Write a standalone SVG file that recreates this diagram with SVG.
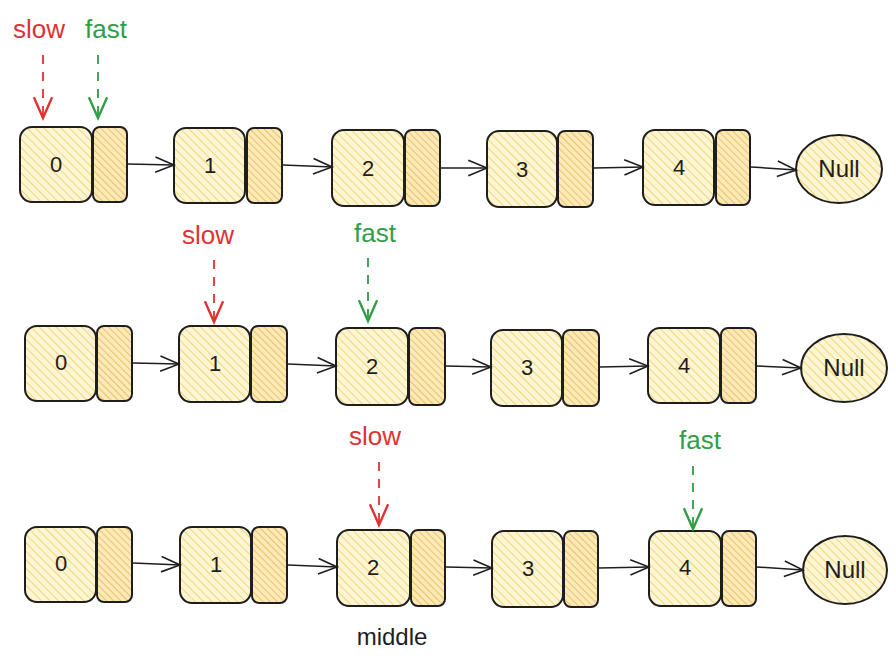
<svg xmlns="http://www.w3.org/2000/svg" width="896" height="664" viewBox="0 0 896 664">
<defs>
<pattern id="h1" patternUnits="userSpaceOnUse" width="6" height="6" patternTransform="rotate(-45)">
<rect width="6" height="6" fill="#fdf5d3"/>
<line x1="0" y1="0" x2="0" y2="6" stroke="#f2d77a" stroke-width="2"/>
</pattern>
<pattern id="h2" patternUnits="userSpaceOnUse" width="5" height="5" patternTransform="rotate(-45)">
<rect width="5" height="5" fill="#fbe9b8"/>
<line x1="0" y1="0" x2="0" y2="5" stroke="#eec268" stroke-width="2"/>
</pattern>
<marker id="ah" viewBox="0 0 20 20" refX="18" refY="10" markerWidth="22" markerHeight="22" markerUnits="userSpaceOnUse" orient="auto">
<path d="M1,3 L18,10 L1,17" fill="none" stroke="#1e1e1e" stroke-width="1.5"/>
</marker>
<marker id="ar" viewBox="0 0 20 20" refX="18" refY="10" markerWidth="26" markerHeight="26" markerUnits="userSpaceOnUse" orient="auto">
<path d="M2,3 L18,10 L2,17" fill="none" stroke="#e03131" stroke-width="1.8"/>
</marker>
<marker id="ag" viewBox="0 0 20 20" refX="18" refY="10" markerWidth="26" markerHeight="26" markerUnits="userSpaceOnUse" orient="auto">
<path d="M2,3 L18,10 L2,17" fill="none" stroke="#2f9e44" stroke-width="1.8"/>
</marker>
</defs>
<style>
.v{fill:url(#h1);stroke:#1e1e1e;stroke-width:2}
.p{fill:url(#h2);stroke:#1e1e1e;stroke-width:2}
.t{font-family:"Liberation Sans",sans-serif;font-size:22px;fill:#1e1e1e;text-anchor:middle;dominant-baseline:central}
.n{font-family:"Liberation Sans",sans-serif;font-size:24px;fill:#1e1e1e;text-anchor:middle;dominant-baseline:central}
.lr{font-family:"Liberation Sans",sans-serif;font-size:26px;fill:#e03131;text-anchor:middle}
.lg{font-family:"Liberation Sans",sans-serif;font-size:26px;fill:#2f9e44;text-anchor:middle}
.lb{font-family:"Liberation Sans",sans-serif;font-size:24px;fill:#1e1e1e;text-anchor:middle}
.c{stroke:#1e1e1e;stroke-width:1.5;fill:none;marker-end:url(#ah)}
.dr{stroke:#e03131;stroke-width:1.8;fill:none;stroke-dasharray:9 8;marker-end:url(#ar)}
.dg{stroke:#2f9e44;stroke-width:1.8;fill:none;stroke-dasharray:9 8;marker-end:url(#ag)}
</style>

<!-- Row 1 -->
<g id="r1n0"><rect class="v" x="20" y="127" width="72" height="75" rx="12"/><rect class="p" x="93" y="127" width="34" height="75" rx="7"/><text class="t" x="56" y="164">0</text></g>
<g id="r1n1"><rect class="v" x="174" y="128" width="71" height="75" rx="12"/><rect class="p" x="247" y="128" width="35" height="75" rx="7"/><text class="t" x="210" y="165">1</text></g>
<g id="r1n2"><rect class="v" x="332" y="130" width="72" height="76" rx="12"/><rect class="p" x="405" y="130" width="35" height="76" rx="7"/><text class="t" x="368" y="168">2</text></g>
<g id="r1n3"><rect class="v" x="487" y="131" width="70" height="76" rx="12"/><rect class="p" x="558" y="131" width="35" height="76" rx="7"/><text class="t" x="522" y="169">3</text></g>
<g id="r1n4"><rect class="v" x="643" y="130" width="71" height="75" rx="12"/><rect class="p" x="716" y="130" width="34" height="75" rx="7"/><text class="t" x="679" y="167">4</text></g>
<g id="r1null"><ellipse class="v" cx="839" cy="169" rx="43" ry="34"/><text class="n" x="839" y="168">Null</text></g>

<!-- Row 2 -->
<g id="r2n0"><rect class="v" x="25" y="326" width="71" height="75" rx="12"/><rect class="p" x="97" y="326" width="35" height="75" rx="7"/><text class="t" x="61" y="362">0</text></g>
<g id="r2n1"><rect class="v" x="179" y="326" width="71" height="76" rx="12"/><rect class="p" x="251" y="326" width="36" height="76" rx="7"/><text class="t" x="215" y="363">1</text></g>
<g id="r2n2"><rect class="v" x="336" y="328" width="72" height="77" rx="12"/><rect class="p" x="409" y="328" width="36" height="77" rx="7"/><text class="t" x="372" y="366">2</text></g>
<g id="r2n3"><rect class="v" x="491" y="330" width="71" height="76" rx="12"/><rect class="p" x="563" y="330" width="36" height="76" rx="7"/><text class="t" x="527" y="367">3</text></g>
<g id="r2n4"><rect class="v" x="648" y="328" width="72" height="75" rx="12"/><rect class="p" x="721" y="328" width="35" height="75" rx="7"/><text class="t" x="684" y="365">4</text></g>
<g id="r2null"><ellipse class="v" cx="844" cy="368" rx="43" ry="34"/><text class="n" x="844" y="367">Null</text></g>

<!-- Row 3 -->
<g id="r3n0"><rect class="v" x="25" y="527" width="71" height="75" rx="12"/><rect class="p" x="97" y="527" width="35" height="75" rx="7"/><text class="t" x="61" y="563">0</text></g>
<g id="r3n1"><rect class="v" x="180" y="527" width="71" height="76" rx="12"/><rect class="p" x="252" y="527" width="35" height="76" rx="7"/><text class="t" x="216" y="564">1</text></g>
<g id="r3n2"><rect class="v" x="337" y="530" width="73" height="76" rx="12"/><rect class="p" x="411" y="530" width="34" height="76" rx="7"/><text class="t" x="373" y="567">2</text></g>
<g id="r3n3"><rect class="v" x="492" y="531" width="71" height="76" rx="12"/><rect class="p" x="564" y="531" width="34" height="76" rx="7"/><text class="t" x="528" y="568">3</text></g>
<g id="r3n4"><rect class="v" x="649" y="531" width="72" height="75" rx="12"/><rect class="p" x="722" y="531" width="34" height="75" rx="7"/><text class="t" x="685" y="567">4</text></g>
<g id="r3null"><ellipse class="v" cx="845" cy="570" rx="42" ry="34"/><text class="n" x="845" y="569">Null</text></g>

<g id="connectors">
<path class="c" d="M128,164 L174,165"/>
<path class="c" d="M283,165 L332,167"/>
<path class="c" d="M441,168 L487,168"/>
<path class="c" d="M594,168 L643,167"/>
<path class="c" d="M751,167 L796,170"/>
<path class="c" d="M133,363 L179,364"/>
<path class="c" d="M288,364 L336,366"/>
<path class="c" d="M446,366 L491,367"/>
<path class="c" d="M600,367 L648,366"/>
<path class="c" d="M757,366 L801,368"/>
<path class="c" d="M133,563 L180,565"/>
<path class="c" d="M288,565 L337,567"/>
<path class="c" d="M446,567 L492,568"/>
<path class="c" d="M599,568 L649,567"/>
<path class="c" d="M757,567 L803,570"/>
<path class="dr" d="M43,55 L43,118"/>
<path class="dg" d="M98,55 L98,118"/>
<path class="dr" d="M214,260 L214,322"/>
<path class="dg" d="M368,258 L368,321"/>
<path class="dr" d="M379,462 L379,525"/>
<path class="dg" d="M693,466 L693,529"/>
</g>

<g id="labels">
<text class="lr" x="39" y="38">slow</text>
<text class="lg" x="106" y="38">fast</text>
<text class="lr" x="208" y="244">slow</text>
<text class="lg" x="375" y="242">fast</text>
<text class="lr" x="375" y="445">slow</text>
<text class="lg" x="700" y="449">fast</text>
<text class="lb" x="392" y="645">middle</text>
</g>
</svg>
